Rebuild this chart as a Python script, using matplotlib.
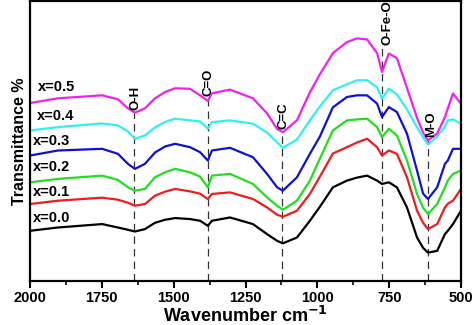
import matplotlib
matplotlib.use("Agg")
import matplotlib.pyplot as plt
from matplotlib.ticker import MultipleLocator

plt.rcParams["font.family"] = ["Liberation Sans", "DejaVu Sans"]
plt.rcParams["font.weight"] = "bold"

# wavenumber grid (cm-1) shared by all spectra
wavenumber = [2000, 1903, 1749, 1694, 1659, 1635, 1600, 1565, 1530, 1495,
              1443, 1408, 1381, 1367, 1304, 1224, 1175, 1140, 1120, 1071,
              1026, 991, 946, 897, 862, 827, 792, 775, 751, 723,
              688, 653, 632, 615, 583, 556, 546, 528, 500]

# transmittance (arb. units, already offset per sample)
t_x00 = [50, 53.3, 56.7, 53.3, 51, 49.3, 51.7, 58, 61, 62.7,
         61.7, 60, 55, 60, 63.3, 56.7, 46.7, 40, 37.5, 43.3,
         60, 74, 93.3, 100, 103, 105, 100, 96.7, 98.3, 93.3,
         73.3, 43.3, 33, 28.3, 30, 46.7, 50, 56.7, 70]
t_x01 = [76.7, 80, 83, 81, 78, 75, 76.7, 85, 89, 91.7,
         89.3, 87, 81.7, 86.7, 88.3, 81.7, 73.3, 66, 64, 70,
         86.7, 104, 127, 133.3, 138, 141.7, 133.3, 125, 130, 126.7,
         103.3, 70, 58, 51.7, 56.7, 73.3, 77, 80, 91.7]
t_x02 = [98.3, 101.7, 105, 100.7, 93.3, 90, 91.7, 103.3, 108.3, 111.7,
         108.3, 104, 93.3, 105, 106.7, 96.7, 83.3, 75, 71, 80,
         100, 122, 150, 160, 161, 161.7, 153.3, 143.3, 151.7, 145,
         120, 86.7, 73, 66.7, 76.7, 93.3, 100, 106.7, 110]
t_x03 = [125, 130, 131.7, 126.7, 116.7, 111.7, 116.7, 128, 134, 136.7,
         133.3, 128.3, 120, 130, 132.7, 123.3, 106.7, 93.3, 90, 103.3,
         126.7, 144, 173, 183.3, 185, 185, 176.7, 163.3, 173.3, 168.3,
         146.7, 110, 87, 81.7, 93.3, 116.7, 120, 131.7, 131.7]
t_x04 = [150, 153.3, 157, 155, 149, 141.7, 145, 153, 158.5, 161.7,
         160, 159, 151.7, 158.3, 160, 156.7, 148, 138, 132.7, 141,
         160, 174, 190, 196, 200, 200, 193, 181.7, 191.7, 186,
         171, 153, 143, 136, 144, 154, 160, 161, 156.7]
t_x05 = [177.3, 182, 185, 181, 172, 167.7, 172, 182, 188.3, 192,
         191.5, 185, 179.5, 187, 190.7, 182, 167, 151.5, 148.3, 160,
         188, 206, 227, 238, 241.7, 240.7, 227, 208.3, 226.7, 222,
         192.3, 162.5, 148, 140, 147, 163.3, 172, 186.7, 176.7]

series = [t_x00, t_x01, t_x02, t_x03, t_x04, t_x05]
sample_labels = ["x=0.0", "x=0.1", "x=0.2", "x=0.3", "x=0.4", "x=0.5"]
colors = ["#000000", "#ee1c1c", "#22dd22", "#1010d0", "#33eef0", "#ee22ee"]
label_pos = [(1990, 63), (1990, 89), (1990, 114), (1990, 139), (1976, 164), (1972, 193)]

# band assignments: (position, dashed line top, label)
band_pos = [1638, 1380, 1123, 775, 615]
band_top = [167, 181, 148, 232, 140]
band_names = ["O-H", "C=O", "C=C", "O-Fe-O", "M-O"]
band_text_x = [1634, 1380, 1117, 756, 605]

fig = plt.figure(figsize=(4.74, 3.25), dpi=100)
ax = fig.add_axes([0.0633, 0.1354, 0.9093, 0.8616])

for wn, top in zip(band_pos, band_top):
    ax.plot([wn, wn], [0, top], color="#333333", lw=0.9,
            dashes=(6, 4), zorder=1)
for name, wn, top in zip(band_names, band_text_x, band_top):
    ax.text(wn, top + 3, name, rotation=90, ha="center", va="bottom",
            fontsize=9.5, fontweight="bold")

for t, c in zip(series, colors):
    ax.plot(wavenumber, t, color=c, lw=1.6, zorder=2)
for lab, (x, y) in zip(sample_labels, label_pos):
    ax.text(x, y, lab, ha="left", va="center", fontsize=10.5,
            fontweight="bold")

ax.set_xlim(2000, 500)
ax.set_ylim(0, 279)
ax.xaxis.set_major_locator(MultipleLocator(250))
ax.xaxis.set_minor_locator(MultipleLocator(125))
ax.set_yticks([])
ax.tick_params(axis="x", which="major", direction="out", length=5,
               width=1.5, labelsize=10.5, pad=2)
ax.tick_params(axis="x", which="minor", direction="out", length=3, width=1.2)
for lbl in ax.get_xticklabels():
    lbl.set_fontweight("bold")
for sp in ax.spines.values():
    sp.set_linewidth(1.6)

ax.set_xlabel("Wavenumber cm$^{\\mathbf{-1}}$", fontsize=13,
              fontweight="bold", labelpad=1)
ax.set_ylabel("Transmittance %", fontsize=11.5, fontweight="bold", labelpad=2)

fig.savefig("out.png", dpi=100)
